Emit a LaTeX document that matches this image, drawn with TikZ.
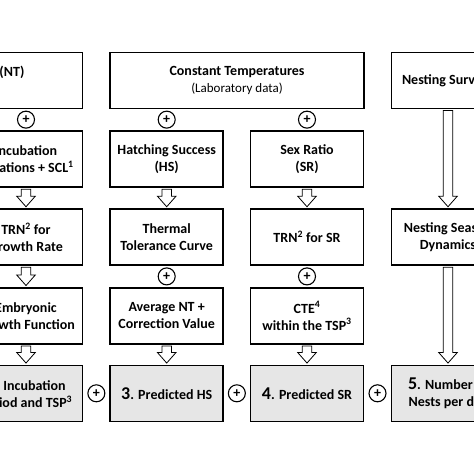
\documentclass[tikz,border=0pt]{standalone}
\usepackage{fontspec}
\setmainfont{Carlito}
\usepackage{tikz}
\usetikzlibrary{calc, shapes.geometric}
\definecolor{predgray}{RGB}{230,230,230}

\begin{document}
\begin{tikzpicture}[x=1pt, y=1pt, font=\fontsize{14}{17}\selectfont\bfseries,
	box/.style={draw, line width=1.5pt, minimum width=113pt, minimum height=56pt, align=center, inner sep=2pt},
	widebox/.style={box, minimum width=254pt},
	predbox/.style={box, fill=predgray},
	plus/.style={circle, draw, line width=1.1pt, minimum size=17pt, inner sep=0pt, font=\fontsize{14}{14}\selectfont\bfseries},
	blockarrow/.style={draw, line width=0.8pt, fill=white,
		to path={let \p1=(\tikztostart), \p2=(\tikztotarget) in
			(\x1-4.75pt,\y1-1.5pt) -- (\x1-4.75pt,\y2+12pt) -- (\x1-9.25pt,\y2+12pt) -- (\x1,\y2+1.5pt)
			-- (\x1+9.25pt,\y2+12pt) -- (\x1+4.75pt,\y2+12pt) -- (\x1+4.75pt,\y1-1.5pt) -- cycle}}]
	\def\cA{26}
	\def\cB{166.7}
	\def\cC{307}
	\def\cD{448}
	\def\rA{393.7}
	\def\rB{315}
	\def\rC{237}
	\def\rD{158.2}
	\def\rE{80.7}
	\def\big{\fontsize{18}{17}\selectfont}

	\useasboundingbox (0,0) rectangle (474,474);
	\clip (0,0) rectangle (474,474);

	% data sources
	\node[widebox] (nt)	at (\cA-70.5,\rA)	{Nest Temperatures (NT)\\ \mbox{}};
	\node[widebox] (ct)	at (237,\rA)	{Constant Temperatures\\{\mdseries\fontsize{13}{13}\selectfont (Laboratory data)}};
	\node[box] (survey)	at (\cD,\rA)	{Nesting Surveys};

	\node[box] (incdur)	at (\cA,\rB)	{Incubation\\Durations + SCL\textsuperscript{1}};
	\node[box] (hs)		at (\cB,\rB)	{Hatching Success\\(HS)};
	\node[box] (sr)		at (\cC,\rB)	{Sex Ratio\\(SR)};

	\node[box] (trngr)	at (\cA,\rC)	{TRN\textsuperscript{2} for\\Growth Rate};
	\node[box] (ttc)	at (\cB,\rC)	{Thermal\\Tolerance Curve};
	\node[box] (trnsr)	at (\cC,\rC)	{TRN\textsuperscript{2} for SR};
	\node[box] (nsd)	at (\cD,\rC)	{Nesting Season\\Dynamics};

	\node[box] (embryo)	at (\cA,\rD)	{Embryonic\\Growth Function};
	\node[box] (avgnt)	at (\cB,\rD)	{Average NT +\\Correction Value};
	\node[box] (cte)	at (\cC,\rD)	{CTE\textsuperscript{4}\\within the TSP\textsuperscript{3}};

	% outputs
	\node[predbox] (incper)	at (\cA,\rE)	{{\big 2}. Incubation\\Period and TSP\textsuperscript{3}};
	\node[predbox] (predhs)	at (\cB,\rE)	{{\big 3}. Predicted HS};
	\node[predbox] (predsr)	at (\cC,\rE)	{{\big 4}. Predicted SR};
	\node[predbox] (nests)	at (\cD,\rE)	{{\big 5}. Number of\\Nests per day};

	% plus signs
	\node[plus] (pl1) at ($(incdur.north)!0.5!(incdur.north |- nt.south)$) {+};
	\node[plus] (pl2) at ($(hs.north)!0.5!(hs.north |- ct.south)$) {+};
	\node[plus] (pl3) at ($(sr.north)!0.5!(sr.north |- ct.south)$) {+};
	\node[plus] (pl4) at ($(ttc.south)!0.5!(avgnt.north)$) {+};
	\node[plus] (pl5) at ($(trnsr.south)!0.5!(cte.north)$) {+};
	\node[plus] (pl6) at ($(incper.east)!0.5!(predhs.west)$) {+};
	\node[plus] (pl7) at ($(predhs.east)!0.5!(predsr.west)$) {+};
	\node[plus] (pl8) at ($(predsr.east)!0.5!(nests.west)$) {+};

	% block arrows
	\draw[blockarrow] (incdur.south) to (trngr.north);
	\draw[blockarrow] (trngr.south) to (embryo.north);
	\draw[blockarrow] (embryo.south) to (incper.north);
	\draw[blockarrow] (hs.south) to (ttc.north);
	\draw[blockarrow] (avgnt.south) to (predhs.north);
	\draw[blockarrow] (sr.south) to (trnsr.north);
	\draw[blockarrow] (cte.south) to (predsr.north);
	\draw[blockarrow] (survey.south) to (nsd.north);
	\draw[blockarrow] (nsd.south) to (nests.north);
\end{tikzpicture}
\end{document}
